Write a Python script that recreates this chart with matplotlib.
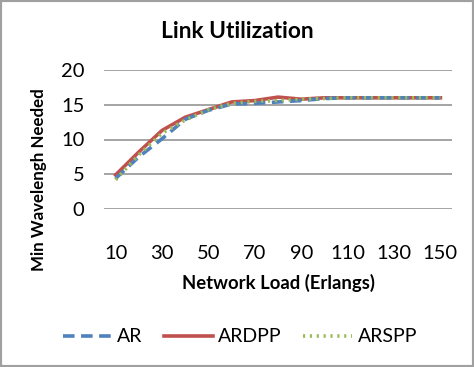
import matplotlib.pyplot as plt
from matplotlib.patches import Rectangle

loads = [10, 20, 30, 40, 50, 60, 70, 80, 90, 100, 110, 120, 130, 140, 150]
tick_labels = ["10", "30", "50", "70", "90", "110", "130", "150"]
ar = [4.4, 7.5, 10.1, 12.9, 14.2, 15.1, 15.2, 15.4, 15.6, 15.9, 16.0, 16.0, 16.0, 16.0, 16.0]
ardpp = [4.9, 8.2, 11.3, 13.2, 14.3, 15.4, 15.6, 16.1, 15.8, 16.0, 16.0, 16.0, 16.0, 16.0, 16.0]
arspp = [4.2, 7.8, 10.9, 12.8, 14.3, 15.2, 15.5, 15.6, 15.8, 15.9, 16.0, 16.0, 16.0, 16.0, 16.0]

plt.rcParams["font.family"] = ["Lato", "DejaVu Sans"]

fig = plt.figure(figsize=(4.74, 3.67), dpi=100)
ax = fig.add_axes([104 / 474, 1 - 209 / 367, 348 / 474, 139 / 367])

idx = list(range(len(loads)))
ax.plot(idx, ar, color="#4f81bd", linewidth=2.6, linestyle=(0, (3.2, 1.8)), label="AR", clip_on=False, zorder=3)
ax.plot(idx, ardpp, color="#c0504d", linewidth=2.6, linestyle="-", label="ARDPP", clip_on=False, zorder=2)
ax.plot(idx, arspp, color="#9bbb59", linewidth=2.6, linestyle=(0, (0.6, 1.3)), label="ARSPP", clip_on=False, zorder=4)

ax.set_xlim(-0.5, len(loads) - 0.5)
ax.set_ylim(0, 20)
ax.set_yticks([0, 5, 10, 15, 20])
ax.set_xticks(idx[::2])
ax.set_xticklabels(tick_labels)
ax.tick_params(axis="both", length=0, labelsize=14.5, colors="black")
ax.tick_params(axis="x", pad=26)
ax.tick_params(axis="y", pad=14)
for s in ax.spines.values():
    s.set_visible(False)
ax.grid(axis="y", color="#8c8c8c", linewidth=1.1)
ax.set_axisbelow(True)

fig.text(237 / 474, 1 - 32 / 367, "Link Utilization", ha="center", va="center",
         fontsize=16.4, fontweight="bold")
fig.text(278 / 474, 1 - 283 / 367, "Network Load (Erlangs)", ha="center", va="center",
         fontsize=13.3, fontweight="bold")
fig.text(39 / 474, 1 - 180 / 367, "Min Wavelengh Needed", ha="center", va="center",
         rotation=90, fontsize=12.2, fontweight="bold")

fig.legend(loc="center", bbox_to_anchor=(240 / 474, 1 - 337 / 367), ncol=3, frameon=False,
           fontsize=14, handlelength=2.5, columnspacing=1.1, handletextpad=0.3)

fig.patches.append(Rectangle((0, 0), 1, 1, transform=fig.transFigure, fill=False,
                             edgecolor="#a0a0a0", linewidth=3))

fig.savefig("out.png", dpi=100)
